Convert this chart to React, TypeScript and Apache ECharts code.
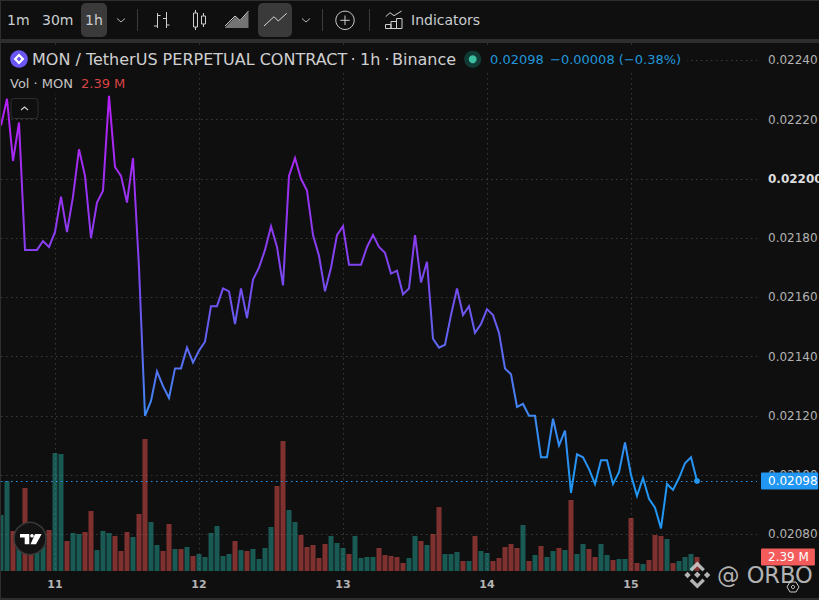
import React, { useEffect, useRef } from "react";
import * as echarts from "echarts";

const FONT = '"DejaVu Sans"';
const BG = "#0f0f0f";

const dayLabels = ["11", "12", "13", "14", "15"];
const hoursBeforeFirstDay = 9;
const hoursPerDay = 24;
const totalSlots = 127;

const priceTicks = { min: 0.0208, max: 0.0224, step: 0.0002, bold: "0.02200" };

const closes = [
  2218, 2227, 2206, 2219, 2176, 2176, 2176, 2179, 2177, 2182, 2194, 2182, 2194, 2210, 2201, 2180, 2192, 2196, 2228, 2204,
  2201, 2192, 2207, 2170, 2120, 2125, 2135, 2130, 2126, 2136, 2136, 2143, 2138, 2142, 2145, 2157, 2157, 2163, 2162, 2151,
  2163, 2153, 2166, 2170, 2176, 2184, 2177, 2164, 2201, 2207, 2200, 2196, 2181, 2174, 2162, 2170, 2181, 2184, 2171, 2171,
  2171, 2177, 2181, 2177, 2175, 2168, 2169, 2161, 2163, 2181, 2165, 2172, 2146, 2143, 2144, 2154, 2163, 2154, 2157, 2148,
  2151, 2156, 2154, 2148, 2136, 2134, 2123, 2124, 2120, 2120, 2106, 2106, 2119, 2110, 2115, 2094, 2107, 2106, 2102, 2097,
  2105, 2105, 2097, 2101, 2111, 2100, 2093, 2099, 2092, 2089, 2082, 2097, 2095, 2099, 2104, 2106, 2098,
];

const volumesM = [
  9.56, 15.36, 6.83, 5.86, 14.17, 4.15, 4.72, 4.72, 7.0, 20.14, 19.97, 5.12, 6.49, 6.32, 6.66, 10.24, 3.58, 6.83, 6.49, 5.97,
  3.41, 6.66, 5.8, 9.73, 22.53, 8.36, 4.44, 3.41, 8.02, 3.76, 3.76, 4.1, 2.56, 2.9, 2.39, 6.49, 7.68, 2.56, 2.9, 5.12,
  3.58, 3.41, 3.76, 2.05, 3.93, 7.51, 14.51, 22.19, 10.41, 8.36, 6.15, 4.1, 4.44, 2.22, 4.61, 5.97, 4.78, 3.93, 2.9, 5.97,
  2.22, 2.39, 2.39, 3.93, 2.73, 2.56, 2.39, 1.37, 2.22, 5.97, 5.12, 4.44, 6.32, 10.92, 2.9, 2.9, 3.24, 1.71, 1.71, 5.97,
  3.41, 3.07, 1.71, 2.22, 4.1, 4.61, 3.93, 7.85, 1.71, 2.73, 4.27, 2.39, 3.41, 3.93, 3.58, 12.12, 2.9, 4.61, 3.76, 2.39,
  4.61, 2.73, 1.88, 2.05, 2.05, 9.05, 1.37, 1.19, 1.88, 6.15, 5.97, 5.46, 1.37, 1.71, 2.39, 2.9, 2.39,
];

const volumeDirections =
  "GGRGRRGGRGGRGGRRGGGRRRGRRGGRRGRGRGGGGGGRGRGGGGRRGGRRRRRGGGRGGGGRRRRRGGRGRRGGGRGRGGRRRRRGRGRGGRGRGGRRGGRGGRRGRRRGRGGGR";

const lastPrice = 0.02098;
const lastVolume = 2.39;

const toolbarLabels = [
  { text: "1m", x: 7 },
  { text: "30m", x: 42 },
  { text: "1h", x: 85 },
  { text: "Indicators", x: 411 },
];
const titleParts = [
  { text: "MON / TetherUS PERPETUAL CONTRACT", x: 32 },
  { text: "·", x: 350.5 },
  { text: "1h", x: 360 },
  { text: "·", x: 384.5 },
  { text: "Binance", x: 392 },
];
const priceLegendParts = [
  { text: "0.02098", x: 490 },
  { text: "−0.00008 (−0.38%)", x: 550 },
];

const categories = Array.from({ length: totalSlots }, (_, i) => {
  const k = (i - hoursBeforeFirstDay) / hoursPerDay;
  return Number.isInteger(k) && dayLabels[k] ? dayLabels[k] : "";
});
const prices = closes.map((c) => c / 100000);
const isDayTick = (i: number) => categories[i] !== "";

const Z = 100;
const txt = (text: string, x: number, y: number, fill: string, size: number, extra: any = {}) => ({
  type: "text",
  x,
  y,
  z: Z + 2,
  style: { text, fill, fontSize: size, fontFamily: FONT, verticalAlign: "middle", align: "left", ...extra },
});
const stroke = (color = "#cfcfcf", lineWidth = 1) => ({ stroke: color, lineWidth, fill: "none" });
const line = (x1: number, y1: number, x2: number, y2: number, color = "#cfcfcf", w = 1) => ({
  type: "line",
  z: Z + 2,
  shape: { x1, y1, x2, y2 },
  style: { stroke: color, lineWidth: w },
});
const poly = (points: number[][], color = "#cfcfcf", w = 1) => ({
  type: "polyline",
  z: Z + 2,
  shape: { points },
  style: stroke(color, w),
});
const fillPoly = (points: number[][], fill: string, z = Z + 2) => ({
  type: "polygon",
  z,
  shape: { points },
  style: { fill },
});
const box = (x: number, y: number, width: number, height: number, fill: string, r = 0, z = Z) => ({
  type: "rect",
  z,
  shape: { x, y, width, height, r },
  style: { fill },
});
const outline = (x: number, y: number, width: number, height: number, color = "#cfcfcf") => ({
  type: "rect",
  z: Z + 2,
  shape: { x, y, width, height },
  style: stroke(color, 1),
});
const diamond = (cx: number, cy: number, r: number, fill: string) =>
  fillPoly([[cx, cy - r], [cx + r, cy], [cx, cy + r], [cx - r, cy]], fill, Z + 3);

const wm = "rgba(225,225,225,0.78)";
const wmX = 697.3;
const wmY = 575;

const chrome: any[] = [
  box(0, 0, 819, 39, BG, 0, Z - 1),
  box(0, 39, 819, 4, "#2e2e2e", 0, Z),
  box(0, 0, 819, 1, "#2e2e2e", 0, Z),
  box(0, 0, 1, 600, "#2e2e2e", 0, Z),
  box(0, 598, 819, 2, "#2e2e2e", 0, Z),
  box(1, 47, 686, 26, BG, 0, Z),
  box(1, 73, 128, 21, BG, 0, Z),
  box(81, 3, 26, 34, "#3a3a3a", 5, Z),
  box(258, 3, 34, 34, "#3a3a3a", 5, Z),
  ...toolbarLabels.map((l) => txt(l.text, l.x, 20, "#c9cdd0", 14)),
  poly([[117, 18.5], [121, 22], [125, 18.5]], "#b5b5b5"),
  poly([[302, 18.5], [306, 22], [310, 18.5]], "#b5b5b5"),
  line(137.5, 9, 137.5, 31, "#3c3c3c"),
  line(322.5, 9, 322.5, 31, "#3c3c3c"),
  line(369.5, 9, 369.5, 31, "#3c3c3c"),
  // bar-chart icon
  line(157.5, 13, 157.5, 28),
  line(154, 26, 157.5, 26),
  line(157.5, 15.5, 160.5, 15.5),
  line(166.5, 12, 166.5, 28),
  line(163, 18.5, 166.5, 18.5),
  line(166.5, 25, 169.5, 25),
  // candle icon
  line(195.5, 10, 195.5, 30),
  { ...box(193.5, 13, 4, 14, BG, 0, Z + 3), style: { fill: BG, stroke: "#cfcfcf", lineWidth: 1 } },
  line(203.5, 13, 203.5, 27),
  { ...box(201.5, 16, 4, 8, BG, 0, Z + 3), style: { fill: BG, stroke: "#cfcfcf", lineWidth: 1 } },
  // area icon
  fillPoly([[225, 27.5], [235, 17], [240, 21], [248.5, 12], [248.5, 28], [225, 28]], "rgba(200,200,200,0.55)"),
  poly([[225, 26], [235, 16], [240, 20.5], [248.5, 11]]),
  // line icon
  poly([[264, 26], [274, 16.7], [278.3, 21], [286.7, 13.3]], "#d8d8d8"),
  // plus
  { type: "circle", z: Z + 2, shape: { cx: 345, cy: 20.3, r: 9.2 }, style: stroke("#cfcfcf", 1) },
  line(345, 15.5, 345, 25),
  line(340.3, 20.3, 349.7, 20.3),
  // indicators icon
  outline(385.5, 24.5, 5.5, 4),
  outline(391, 21.5, 5.5, 7),
  outline(396.5, 18.5, 5.5, 10),
  poly([[385.7, 16.7], [390, 12.7], [394, 15.7], [401.7, 11]]),
  // symbol
  { type: "circle", z: Z + 2, shape: { cx: 19, cy: 59, r: 8.8 }, style: { fill: "#6a55f5" } },
  diamond(19, 59, 5.4, "#ffffff"),
  diamond(19, 59, 2.4, "#6a55f5"),
  ...titleParts.map((p) => txt(p.text, p.x, 59.5, "#cfcfcf", 16)),
  { type: "circle", z: Z + 2, shape: { cx: 472.7, cy: 59.3, r: 8.6 }, style: { fill: "#123a35" } },
  { type: "circle", z: Z + 3, shape: { cx: 472.7, cy: 59.3, r: 4 }, style: { fill: "#3bbfa3" } },
  ...priceLegendParts.map((p) => txt(p.text, p.x, 59.5, "#2196d9", 13)),
  txt("Vol · MON", 10, 83.5, "#c4c4c4", 13),
  txt("2.39 M", 81, 83.5, "#d84343", 13),
  // collapse button
  { type: "rect", z: Z + 2, shape: { x: 11, y: 98.5, width: 27, height: 20, r: 3 }, style: { fill: BG, stroke: "#2e2e2e", lineWidth: 1 } },
  poly([[21, 110], [24.5, 107], [28, 110]], "#d0d0d0", 1.2),
  // TradingView badge
  { type: "circle", z: Z + 2, shape: { cx: 30, cy: 538.5, r: 16 }, style: { fill: "#131313", stroke: "#3a3a3a", lineWidth: 1.5 } },
  fillPoly([[20, 534], [29.3, 534], [29.3, 544.3], [24.7, 544.3], [24.7, 537.4], [20, 537.4]], "#ffffff", Z + 3),
  { type: "circle", z: Z + 3, shape: { cx: 32, cy: 535.8, r: 1.8 }, style: { fill: "#ffffff" } },
  fillPoly([[35, 534], [41.7, 534], [36, 544.3], [30.5, 544.3]], "#ffffff", Z + 3),
  // watermark
  diamond(wmX, wmY - 0.3, 3.2, wm),
  diamond(wmX - 9.8, wmY, 3.2, wm),
  diamond(wmX + 9.8, wmY, 3.2, wm),
  fillPoly([[wmX, wmY - 13.5], [wmX + 7.6, wmY - 5.9], [wmX + 5.2, wmY - 3.5], [wmX, wmY - 8.7], [wmX - 5.2, wmY - 3.5], [wmX - 7.6, wmY - 5.9]], wm, Z + 3),
  fillPoly([[wmX, wmY + 13.5], [wmX + 7.6, wmY + 5.9], [wmX + 5.2, wmY + 3.5], [wmX, wmY + 8.7], [wmX - 5.2, wmY + 3.5], [wmX - 7.6, wmY + 5.9]], wm, Z + 3),
  { ...txt("@ ORBO", 717, 575, wm, 22.5), z: Z + 3 },
  { type: "polygon", z: Z + 3, shape: { points: [[790, 582], [796, 582], [799, 587], [796, 592], [790, 592], [787, 587]] }, style: { fill: "none", stroke: "#c8c8c8", lineWidth: 1 } },
  { type: "circle", z: Z + 3, shape: { cx: 793, cy: 587, r: 1.6 }, style: { fill: "none", stroke: "#c8c8c8", lineWidth: 1 } },
];

const gridLine = { color: "#3a3a3a", type: [1.5, 3.5], width: 1 };
const lastSlot = totalSlots - 1;

function buildOption(): any {
  return {
    animation: false,
    backgroundColor: BG,
    textStyle: { fontFamily: FONT },
    grid: [
      { left: 1, width: 756, top: 60.3, height: 474, outerBoundsMode: "none" },
      { left: 1, width: 756, top: 43, height: 528, outerBoundsMode: "none" },
    ],
    xAxis: [
      { type: "category", gridIndex: 0, data: categories, boundaryGap: false, show: false },
      {
        type: "category",
        gridIndex: 1,
        data: categories,
        boundaryGap: false,
        axisLine: { show: false },
        axisTick: { show: false },
        axisLabel: {
          interval: (i: number) => isDayTick(i),
          color: "#b4b4b4",
          fontSize: 11,
          fontWeight: "bold",
          fontFamily: FONT,
          margin: 8,
          hideOverlap: false,
        },
        splitLine: { show: true, interval: (i: number) => isDayTick(i), lineStyle: gridLine },
      },
    ],
    yAxis: [
      {
        type: "value",
        gridIndex: 0,
        position: "right",
        min: priceTicks.min,
        max: priceTicks.max,
        interval: priceTicks.step,
        axisLine: { show: false },
        axisTick: { show: false },
        splitLine: { show: true, lineStyle: gridLine },
        axisLabel: {
          margin: 11,
          color: "#b2b2b2",
          fontSize: 12,
          fontFamily: FONT,
          formatter: (v: number) => {
            const s = v.toFixed(5);
            return s === priceTicks.bold ? `{b|${s}}` : s;
          },
          rich: { b: { color: "#dcdcdc", fontWeight: "bold", fontSize: 12, fontFamily: FONT } },
        },
      },
      { type: "value", gridIndex: 1, min: 0, max: 90.13, show: false, splitLine: { show: false } },
    ],
    series: [
      {
        type: "bar",
        name: "Vol",
        xAxisIndex: 1,
        yAxisIndex: 1,
        data: volumesM,
        barWidth: 5,
        z: 1,
        itemStyle: {
          color: (p: any) => (volumeDirections[p.dataIndex] === "G" ? "rgba(38,166,154,0.5)" : "rgba(239,83,80,0.5)"),
        },
        markLine: {
          silent: true,
          symbol: "none",
          lineStyle: { color: "transparent", width: 1 },
          data: [[{ coord: [0, lastVolume] }, { coord: [lastSlot, lastVolume] }]],
          label: {
            show: true,
            position: "end",
            distance: 4,
            formatter: `${lastVolume} M`,
            color: "#ffffff",
            opacity: 1,
            fontSize: 12,
            fontFamily: FONT,
            backgroundColor: "#f45b5b",
            padding: [2, 6, 2, 7],
            borderRadius: 1,
            lineHeight: 13,
          },
        },
      },
      {
        type: "line",
        name: "MON",
        xAxisIndex: 0,
        yAxisIndex: 0,
        data: prices,
        showSymbol: false,
        z: 3,
        lineStyle: {
          width: 2,
          join: "miter",
          color: new echarts.graphic.LinearGradient(
            0, 95, 0, 527,
            [
              { offset: 0, color: "#b81ef5" },
              { offset: 0.336, color: "#8a3cf0" },
              { offset: 0.468, color: "#7250f0" },
              { offset: 0.604, color: "#5a6bf0" },
              { offset: 0.74, color: "#3f88f5" },
              { offset: 0.89, color: "#2196f3" },
              { offset: 1, color: "#2196f3" },
            ],
            true
          ),
        },
        markPoint: {
          silent: true,
          symbol: "circle",
          symbolSize: 6,
          itemStyle: { color: "#2196f3" },
          label: { show: false },
          data: [{ coord: [closes.length - 1, lastPrice] }],
        },
        markLine: {
          silent: true,
          symbol: "none",
          lineStyle: { color: "#2196f3", type: [1.5, 3.5], width: 1 },
          data: [[{ coord: [0, lastPrice] }, { coord: [lastSlot, lastPrice] }]],
          label: {
            show: true,
            position: "end",
            distance: 4,
            formatter: lastPrice.toFixed(5),
            color: "#ffffff",
            fontSize: 12,
            fontFamily: FONT,
            backgroundColor: "#2196f3",
            padding: [2, 0.5, 2, 7],
            borderRadius: 1,
            lineHeight: 13,
          },
        },
      },
    ],
    graphic: chrome,
  };
}

export default function App() {
  const ref = useRef<HTMLDivElement>(null);
  useEffect(() => {
    document.body.style.margin = "0";
    document.body.style.background = BG;
    const chart = echarts.init(ref.current!, undefined, { renderer: "svg" });
    chart.setOption(buildOption());
    return () => chart.dispose();
  }, []);
  return <div ref={ref} style={{ width: 819, height: 600, overflow: "hidden" }} />;
}
